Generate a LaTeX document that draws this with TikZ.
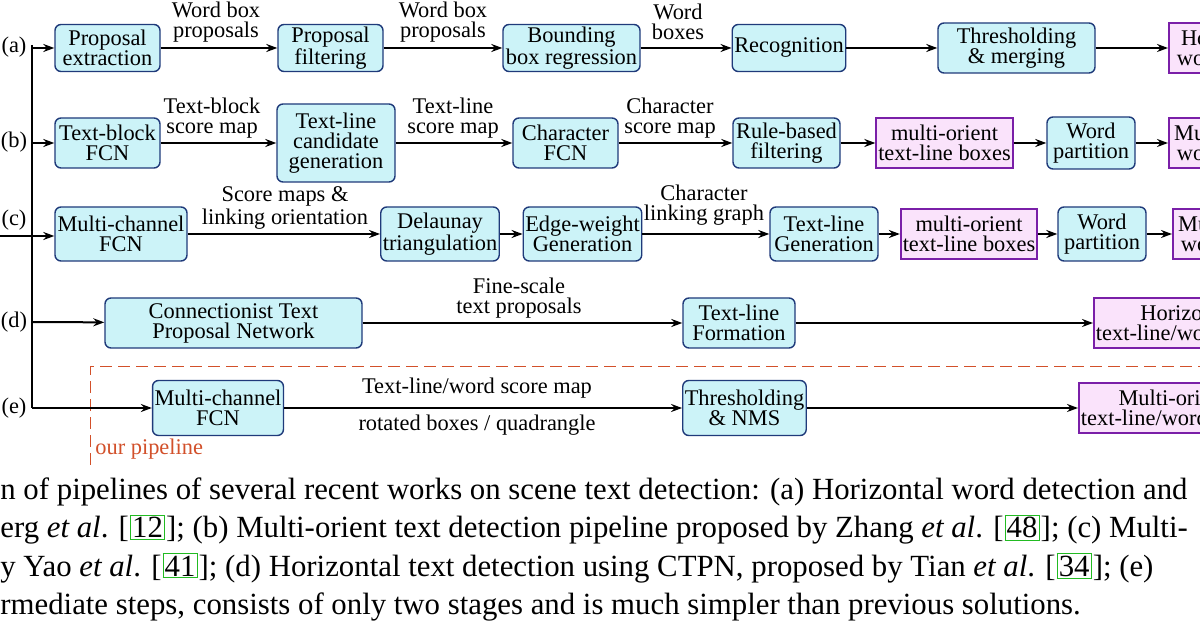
\documentclass[tikz,border=0pt]{standalone}
\usepackage{fontspec}
\setmainfont{Liberation Serif}
\usetikzlibrary{arrows.meta}
\definecolor{cfill}{HTML}{CCF3F8}
\definecolor{cdraw}{HTML}{1F3A7A}
\definecolor{pfill}{HTML}{FAE3FB}
\definecolor{pdraw}{HTML}{7A1FA8}
\definecolor{ored}{HTML}{D2502A}
\definecolor{cgreen}{HTML}{22BB22}
\newcommand{\cit}[1]{[\kern0.5pt{\setlength{\fboxsep}{0.6pt}\setlength{\fboxrule}{0.5pt}\fcolorbox{cgreen}{white}{#1}}\kern0.5pt]}
\begin{document}
\begin{tikzpicture}[x=0.5pt,y=-0.5pt,
  font=\rmfamily\fontsize{11.2}{10}\selectfont,
  box/.style={draw=cdraw,fill=cfill,line width=0.7pt,rounded corners=3pt,align=center,inner sep=1pt},
  pbox/.style={draw=pdraw,fill=pfill,line width=0.9pt,align=center,inner sep=1pt},
  arr/.style={-{Stealth[length=5.5pt,width=4pt]},line width=1pt},
  lab/.style={align=center,inner sep=0pt},
  rl/.style={inner sep=0pt}]
\useasboundingbox (0,0) rectangle (1200,630);
\clip (0,0) rectangle (1200,630);
\fill[white] (0,0) rectangle (1200,630);
% dashed box
\draw[ored,dash pattern=on 6pt off 3pt,line width=0.5pt] (90,465) -- (90,367) -- (1210,367);
\node[rl,anchor=west,text=ored] (ourp) at (95,449) {our pipeline};
% row a
\node[box,minimum width=52.5pt,minimum height=23.5pt] (a1) at (107.5,48) {Proposal\\extraction};
\node[box,minimum width=52.5pt,minimum height=23.5pt] (a2) at (330.5,48) {Proposal\\filtering};
\node[box,minimum width=68.5pt,minimum height=23.5pt] (a3) at (571.5,48) {Bounding\\box regression};
\node[box,minimum width=56pt,minimum height=23.5pt] (a4) at (789,48) {Recognition};
\node[box,minimum width=78.5pt,minimum height=25pt] (a5) at (1016.5,48) {Thresholding\\\& merging};
\node[pbox,anchor=west,minimum width=60pt,minimum height=25pt] (a6) at (1168,48) {Horizontal\\word boxes};
% row b
\node[box,minimum width=52.5pt,minimum height=25pt] (b1) at (107.5,143) {Text-block\\FCN};
\node[box,minimum width=59pt,minimum height=39pt] (b2) at (336,143) {Text-line\\candidate\\generation};
\node[box,minimum width=52.5pt,minimum height=25pt] (b3) at (565.5,143) {Character\\FCN};
\node[box,minimum width=53.5pt,minimum height=25pt] (b4) at (786.5,143) {Rule-based\\filtering};
\node[pbox,minimum width=67.5pt,minimum height=25pt] (b5) at (944.5,143) {multi-orient\\text-line boxes};
\node[box,minimum width=44pt,minimum height=26pt] (b6) at (1091,143) {Word\\partition};
\node[pbox,anchor=west,minimum width=60pt,minimum height=25pt] (b7) at (1168,143) {Multi-orient\\word boxes};
% row c
\node[box,minimum width=66pt,minimum height=27pt] (c1) at (121,234) {Multi-channel\\FCN};
\node[box,minimum width=57pt,minimum height=27pt] (c2) at (440,234) {Delaunay\\triangulation};
\node[box,minimum width=57.5pt,minimum height=27pt] (c3) at (582.5,234) {Edge-weight\\Generation};
\node[box,minimum width=54pt,minimum height=27pt] (c4) at (824,234) {Text-line\\Generation};
\node[pbox,minimum width=67pt,minimum height=25pt] (c5) at (969,234) {multi-orient\\text-line boxes};
\node[box,minimum width=44pt,minimum height=27pt] (c6) at (1102,234) {Word\\partition};
\node[pbox,anchor=west,minimum width=60pt,minimum height=25pt] (c7) at (1172,234) {Multi-orient\\word boxes};
% row d
\node[box,minimum width=128.5pt,minimum height=25pt] (d1) at (233.5,323) {Connectionist Text\\Proposal Network};
\node[box,minimum width=56pt,minimum height=25pt] (d2) at (739,323) {Text-line\\Formation};
\node[pbox,anchor=west,minimum width=75pt,minimum height=25pt] (d3) at (1093,323) {Horizontal\\text-line/word boxes};
% row e
\node[box,minimum width=64pt,minimum height=27.5pt] (e1) at (218,408) {Multi-channel\\FCN};
\node[box,minimum width=61.5pt,minimum height=27.5pt] (e2) at (744.5,408) {Thresholding\\\& NMS};
\node[pbox,anchor=west,minimum width=80pt,minimum height=25pt] (e3) at (1078,408) {Multi-orient\\text-line/word boxes};
% trunk
\coordinate (ta) at (32,48); \coordinate (tb) at (32,143); \coordinate (tc) at (32,236);
\coordinate (td) at (32,322); \coordinate (te) at (32,408); \coordinate (c0) at (0,236);
\draw[line width=1pt] (32,45) -- (te);
\draw[arr] (ta) -- (a1); \draw[arr] (tb) -- (b1); \draw[arr] (c0) -- (c1.west|-c0);
\draw[arr] (td) -- (d1); \draw[arr] (te) -- (e1);
\node[rl] (la) at (14,47) {(a)}; \node[rl] (lb) at (14,142) {(b)}; \node[rl] (lc) at (14,220) {(c)};
\node[rl] (ld) at (14,322) {(d)}; \node[rl] (le) at (14,408) {(e)};
% connectors
\draw[arr] (a1) -- (a2); \draw[arr] (a2) -- (a3); \draw[arr] (a3) -- (a4); \draw[arr] (a4) -- (a5); \draw[arr] (a5) -- (a6);
\draw[arr] (b1) -- (b2); \draw[arr] (b2) -- (b3); \draw[arr] (b3) -- (b4); \draw[arr] (b4) -- (b5); \draw[arr] (b5) -- (b6); \draw[arr] (b6) -- (b7);
\draw[arr] (c1) -- (c2); \draw[arr] (c2) -- (c3); \draw[arr] (c3) -- (c4); \draw[arr] (c4) -- (c5); \draw[arr] (c5) -- (c6); \draw[arr] (c6) -- (c7);
\draw[arr] (d1) -- (d2); \draw[arr] (d2) -- (d3);
\draw[arr] (e1) -- (e2); \draw[arr] (e2) -- (e3);
% edge labels
\node[lab] (l1) at (216,22) {Word box\\proposals};
\node[lab] (l2) at (443,22) {Word box\\proposals};
\node[lab] (l3) at (678,22) {Word\\boxes};
\node[lab] (l4) at (212,118) {Text-block\\score map};
\node[lab] (l5) at (453,118) {Text-line\\score map};
\node[lab] (l6) at (670,118) {Character\\score map};
\node[lab] (l7) at (285,208) {Score maps \&\\linking orientation};
\node[lab] (l8) at (704,205) {Character\\linking graph};
\node[lab] (l9) at (519,298) {Fine-scale\\text proposals};
\node[lab] (l10) at (477,388) {Text-line/word score map};
\node[lab] (l11) at (477,425) {rotated boxes / quadrangle};
% caption
\begin{scope}[font=\rmfamily\fontsize{15.4}{16}\selectfont]
\node[rl,anchor=base west] (cap1) at (0,500) {n of pipelines of several recent works on scene text detection: (a) Horizontal word detection and};
\node[rl,anchor=base west] (cap2) at (0,538) {erg \emph{et al}. \cit{12}; (b) Multi-orient text detection pipeline proposed by Zhang \emph{et al}. \cit{48}; (c) Multi-};
\node[rl,anchor=base west] (cap3) at (0,576) {y Yao \emph{et al}. \cit{41}; (d) Horizontal text detection using CTPN, proposed by Tian \emph{et al}. \cit{34}; (e)};
\node[rl,anchor=base west] (cap4) at (0,614) {rmediate steps, consists of only two stages and is much simpler than previous solutions.};
\end{scope}
\end{tikzpicture}
\end{document}
